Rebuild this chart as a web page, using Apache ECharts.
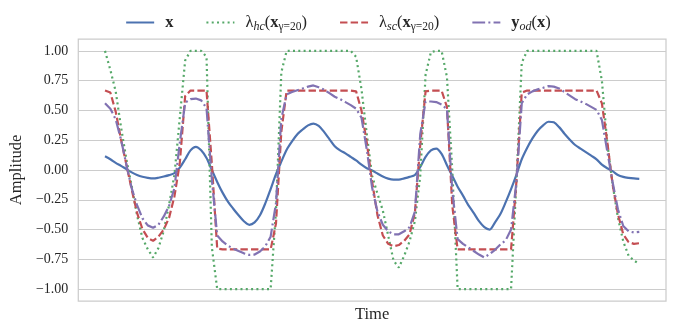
<!DOCTYPE html>
<html>
<head>
<meta charset="utf-8">
<script src="https://cdn.jsdelivr.net/npm/echarts@6/dist/echarts.min.js"></script>
<style>
  html, body { margin: 0; padding: 0; background: #fff; }
  #main { width: 676px; height: 332px; }
</style>
</head>
<body>
<div id="main"></div>
<script>
// values, one per sample (101 samples)
var signal = [
  0.115, 0.09, 0.06, 0.035, 0.007, -0.02, -0.042, -0.057, -0.066, -0.071,
  -0.065, -0.055, -0.043, -0.027, 0.02, 0.09, 0.165, 0.194, 0.165, 0.10,
  0.0, -0.10, -0.19, -0.265, -0.325, -0.38, -0.43, -0.46, -0.44, -0.38,
  -0.28, -0.16, -0.035, 0.07, 0.17, 0.24, 0.30, 0.34, 0.375, 0.39,
  0.37, 0.32, 0.26, 0.20, 0.165, 0.14, 0.11, 0.08, 0.045, 0.015,
  -0.005, -0.03, -0.055, -0.072, -0.08, -0.08, -0.07, -0.058, -0.042, 0.025,
  0.11, 0.165, 0.18, 0.135, 0.04, -0.05, -0.14, -0.215, -0.295, -0.36,
  -0.43, -0.48, -0.50, -0.44, -0.37, -0.27, -0.16, -0.04, 0.09, 0.185,
  0.265, 0.33, 0.375, 0.405, 0.40, 0.36, 0.305, 0.255, 0.21, 0.18,
  0.15, 0.12, 0.09, 0.045, 0.015, -0.01, -0.042, -0.058, -0.066, -0.071,
  -0.074
];
var hardClip = [
  1.0, 0.84, 0.66, 0.36, 0.09, -0.135, -0.38, -0.57, -0.665, -0.735,
  -0.655, -0.51, -0.29, -0.04, 0.44, 0.92, 1.0, 1.0, 1.0, 0.95,
  -0.65, -1.0, -1.0, -1.0, -1.0, -1.0, -1.0, -1.0, -1.0, -1.0,
  -1.0, -1.0, -0.34, 0.82, 1.0, 1.0, 1.0, 1.0, 1.0, 1.0,
  1.0, 1.0, 1.0, 1.0, 1.0, 1.0, 1.0, 0.95, 0.68, 0.3,
  -0.05, -0.2, -0.34, -0.55, -0.76, -0.82, -0.72, -0.6, -0.43, -0.05,
  0.8, 0.99, 1.0, 1.0, 0.78, 0.0, -1.0, -1.0, -1.0, -1.0,
  -1.0, -1.0, -1.0, -1.0, -1.0, -1.0, -1.0, -0.1, 0.9, 1.0,
  1.0, 1.0, 1.0, 1.0, 1.0, 1.0, 1.0, 1.0, 1.0, 1.0,
  1.0, 1.0, 1.0, 0.75, 0.23, -0.12, -0.40, -0.60, -0.72, -0.76,
  -0.79
];
var softClip = [
  0.667, 0.65, 0.49, 0.255, 0.045, -0.165, -0.36, -0.495, -0.57, -0.595,
  -0.56, -0.5, -0.40, -0.22, 0.06, 0.62, 0.667, 0.667, 0.667, 0.667,
  0.05, -0.66, -0.667, -0.667, -0.667, -0.667, -0.667, -0.667, -0.667, -0.667,
  -0.667, -0.667, -0.45, 0.32, 0.667, 0.667, 0.667, 0.667, 0.667, 0.667,
  0.667, 0.667, 0.667, 0.667, 0.667, 0.667, 0.667, 0.66, 0.50, 0.23,
  -0.1, -0.38, -0.55, -0.62, -0.64, -0.63, -0.595, -0.54, -0.36, 0.21,
  0.66, 0.667, 0.667, 0.667, 0.53, -0.3, -0.667, -0.667, -0.667, -0.667,
  -0.667, -0.667, -0.667, -0.667, -0.667, -0.667, -0.667, -0.1, 0.65, 0.667,
  0.667, 0.667, 0.667, 0.667, 0.667, 0.667, 0.667, 0.667, 0.667, 0.667,
  0.667, 0.667, 0.667, 0.56, 0.24, -0.12, -0.37, -0.54, -0.605, -0.62,
  -0.615
];
var odOutput = [
  0.56, 0.515, 0.425, 0.255, 0.045, -0.155, -0.295, -0.405, -0.465, -0.485,
  -0.46, -0.39, -0.30, -0.15, 0.23, 0.565, 0.595, 0.60, 0.585, 0.52,
  -0.08, -0.55, -0.60, -0.635, -0.66, -0.68, -0.70, -0.713, -0.71, -0.685,
  -0.64, -0.56, -0.28, 0.43, 0.635, 0.655, 0.67, 0.685, 0.70, 0.71,
  0.695, 0.675, 0.645, 0.615, 0.595, 0.57, 0.545, 0.515, 0.44, 0.17,
  -0.15, -0.35, -0.46, -0.515, -0.54, -0.54, -0.515, -0.48, -0.35, 0.30,
  0.575, 0.575, 0.57, 0.55, 0.51, -0.17, -0.58, -0.62, -0.65, -0.68,
  -0.71, -0.735, -0.705, -0.67, -0.625, -0.59, -0.50, -0.10, 0.56, 0.635,
  0.66, 0.677, 0.69, 0.705, 0.70, 0.685, 0.655, 0.625, 0.595, 0.575,
  0.555, 0.53, 0.505, 0.42, 0.16, -0.10, -0.33, -0.47, -0.515, -0.525,
  -0.52
];
var yTicks = [-1, -0.75, -0.5, -0.25, 0, 0.25, 0.5, 0.75, 1];
var seriesNames = ['x', 'hc', 'sc', 'od'];

var serif = '"Liberation Serif", "DejaVu Serif", serif';
var textColor = '#262626';

function pairs(arr) {
  return arr.map(function (v, i) { return [i, v]; });
}

var legendLabels = {
  x: '{b|x}',
  hc: '{n|λ}{s|hc}{n|(}{b|x}{s2|γ=20}{n|)}',
  sc: '{n|λ}{s|sc}{n|(}{b|x}{s2|γ=20}{n|)}',
  od: '{b|y}{s|od}{n|(}{b|x}{n|)}'
};

var chart = echarts.init(document.getElementById('main'), null, { renderer: 'canvas' });

var option = {
  backgroundColor: '#ffffff',
  animation: false,
  grid: {
    left: 78, right: 10, top: 39, bottom: 31,
    show: true, borderColor: '#cccccc', borderWidth: 1.25, backgroundColor: 'transparent'
  },
  legend: {
    top: 9,
    left: 'center',
    itemWidth: 28,
    itemHeight: 14,
    itemGap: 32,
    data: seriesNames,
    formatter: function (name) { return legendLabels[name]; },
    itemStyle: { opacity: 0 },
    textStyle: {
      color: textColor,
      fontFamily: serif,
      fontSize: 16,
      padding: [0, 0, 0, 6],
      rich: {
        n: { fontFamily: serif, fontSize: 16.5, color: textColor, lineHeight: 20, verticalAlign: 'middle' },
        b: { fontFamily: serif, fontSize: 16.5, fontWeight: 'bold', color: textColor, lineHeight: 20, verticalAlign: 'middle' },
        s: { fontFamily: serif, fontSize: 12, fontStyle: 'italic', color: textColor, lineHeight: 13, verticalAlign: 'bottom' },
        s2: { fontFamily: serif, fontSize: 11.5, color: textColor, lineHeight: 13, verticalAlign: 'bottom' }
      }
    }
  },
  xAxis: {
    type: 'value',
    min: -5,
    max: 105,
    name: 'Time',
    nameLocation: 'middle',
    nameGap: 5,
    nameTextStyle: { fontFamily: serif, fontSize: 16.5, color: textColor, verticalAlign: 'top' },
    axisLine: { show: false },
    axisTick: { show: false },
    axisLabel: { show: false },
    splitLine: { show: false }
  },
  yAxis: {
    type: 'value',
    min: -1.1,
    max: 1.1,
    name: 'Amplitude',
    nameLocation: 'middle',
    nameGap: 52,
    nameTextStyle: { fontFamily: serif, fontSize: 16.5, color: textColor },
    axisLine: { show: false },
    axisTick: { show: false, customValues: yTicks },
    axisLabel: {
      customValues: yTicks,
      margin: 10,
      fontFamily: serif,
      fontSize: 14,
      color: textColor,
      formatter: function (v) { return v.toFixed(2).replace('-', '\u2212'); }
    },
    splitLine: { show: true, lineStyle: { color: '#cccccc', width: 1 } }
  },
  series: [
    {
      name: 'x', type: 'line', data: pairs(signal), symbol: 'none', smooth: 0.3,
      lineStyle: { color: '#4C72B0', width: 2.2 }, itemStyle: { color: '#4C72B0' }
    },
    {
      name: 'hc', type: 'line', data: pairs(hardClip), symbol: 'none',
      lineStyle: { color: '#55A868', width: 2.2, type: [2, 3.3] }, itemStyle: { color: '#55A868' }
    },
    {
      name: 'sc', type: 'line', data: pairs(softClip), symbol: 'none',
      lineStyle: { color: '#C44E52', width: 2.2, type: [7.4, 3.2] }, itemStyle: { color: '#C44E52' }
    },
    {
      name: 'od', type: 'line', data: pairs(odOutput), symbol: 'none',
      lineStyle: { color: '#8172B2', width: 2.2, type: [12.8, 3.2, 2, 3.2] }, itemStyle: { color: '#8172B2' }
    }
  ]
};

chart.setOption(option);
</script>
</body>
</html>
